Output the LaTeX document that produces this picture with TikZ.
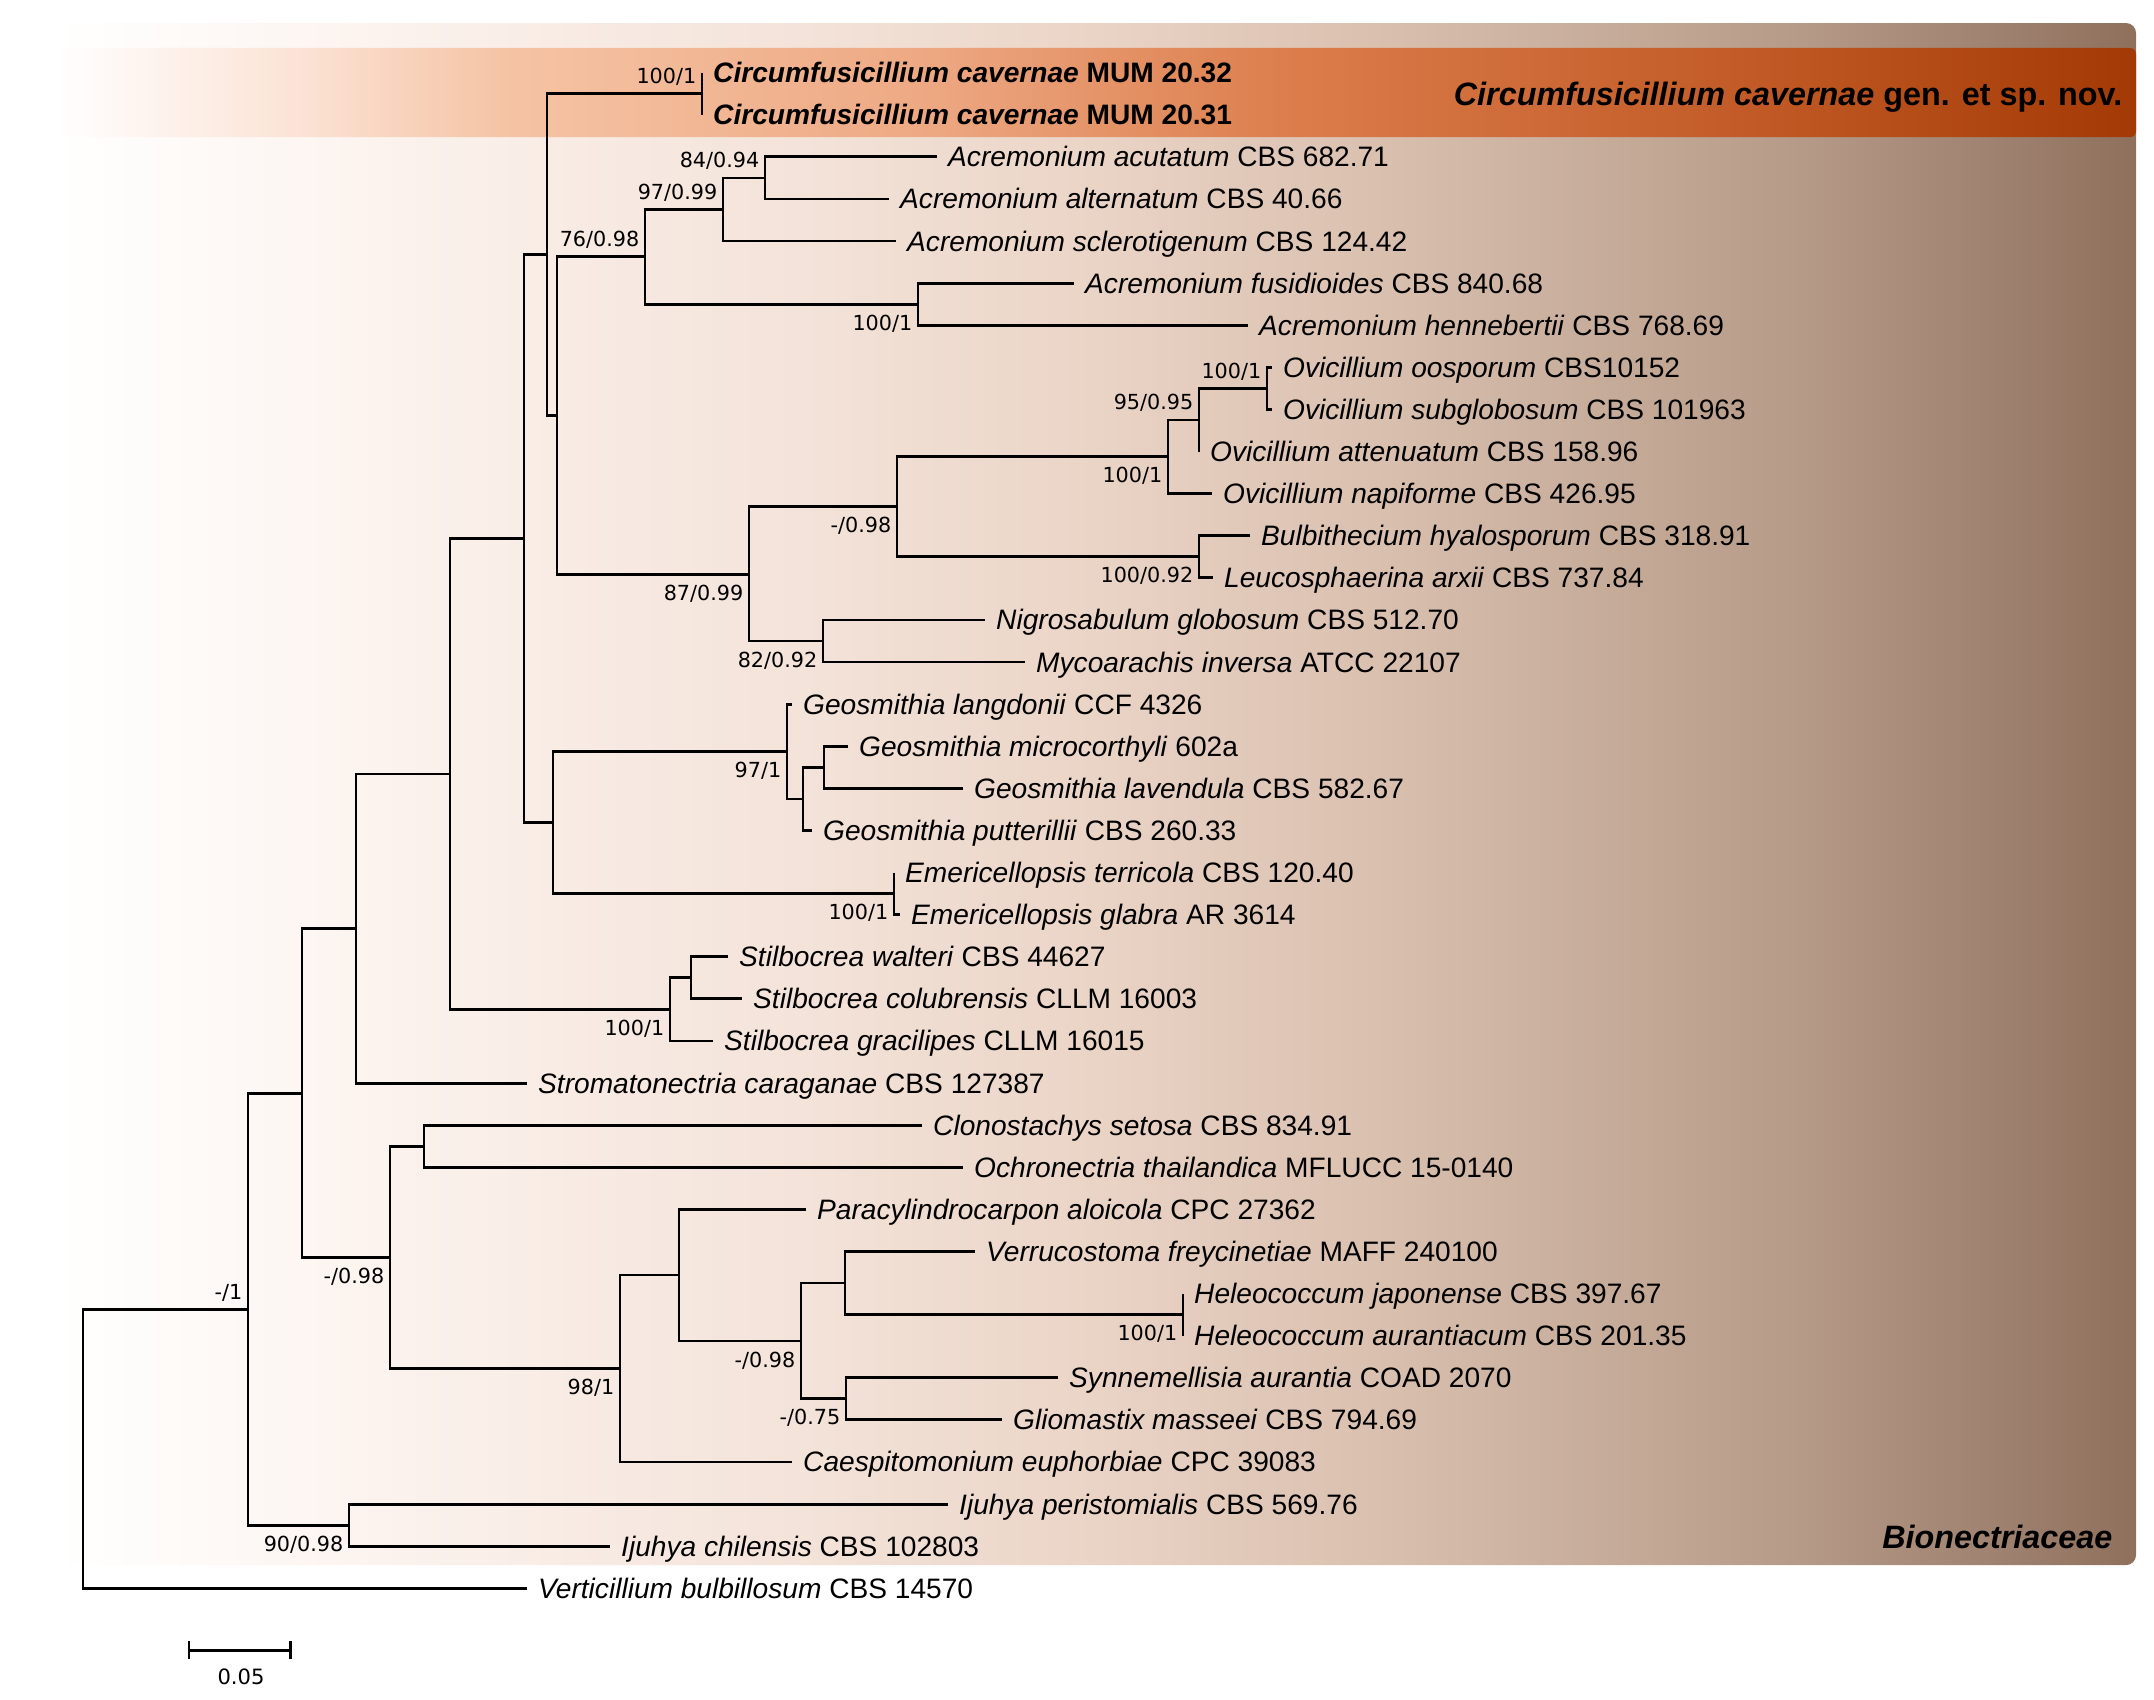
\documentclass[tikz,border=0pt]{standalone}
\usepackage{fontspec}
\setmainfont{Liberation Sans}
\newfontfamily\supfont{DejaVu Sans}

\definecolor{nova}{HTML}{FBE2D4}
\definecolor{novb}{HTML}{F5C4A5}
\definecolor{novc}{HTML}{EEAA85}
\definecolor{novd}{HTML}{DB7C4A}
\definecolor{nove}{HTML}{BE5622}
\definecolor{novf}{HTML}{A33A05}
\definecolor{fama}{HTML}{FDF6F2}
\definecolor{famb}{HTML}{F8EBE4}
\definecolor{famc}{HTML}{F3E2D8}
\definecolor{famd}{HTML}{EAD4C6}
\definecolor{fame}{HTML}{D9BFAE}
\definecolor{famf}{HTML}{B59A87}
\definecolor{famg}{HTML}{8E705D}

\pgfdeclarehorizontalshading{novshade}{100bp}{color(0bp)=(white); color(25bp)=(white);
  color(31bp)=(nova); color(35.7bp)=(novb); color(45.5bp)=(novc); color(55bp)=(novd);
  color(67bp)=(nove); color(75bp)=(novf); color(100bp)=(novf)}
\pgfdeclarehorizontalshading{famshade}{100bp}{color(0bp)=(white); color(25bp)=(white);
  color(31bp)=(fama); color(37.5bp)=(famb); color(43.5bp)=(famc); color(50bp)=(famd);
  color(57bp)=(fame); color(67bp)=(famf); color(75bp)=(famg); color(100bp)=(famg)}

\tikzset{
  treeline/.style={line width=0.8pt},
  taxon/.style={anchor=base west, inner sep=0pt, xshift=1.05mm, yshift=-1.0mm,
    font=\fontsize{8}{9.6}\selectfont},
  supa/.style={anchor=south east, inner sep=0pt, xshift=-0.5mm, yshift=0.75mm,
    font=\supfont\fontsize{5.9}{7}\selectfont},
  supb/.style={anchor=north east, inner sep=0pt, xshift=-0.5mm, yshift=-1.0mm,
    font=\supfont\fontsize{5.9}{7}\selectfont},
  cladelbl/.style={anchor=base east, inner sep=0pt,
    font=\bfseries\fontsize{9.2}{11}\selectfont}
}

\begin{document}
\begin{tikzpicture}[x=0.1mm,y=-4.21mm]
        \useasboundingbox (0,-0.727) rectangle (2154,39.65);

        \shade [shading=famshade, rounded corners=1mm] (55,-0.18) rectangle (2136,36.45);
        \shade [shading=novshade, rounded corners=0.6mm] (55,0.413) rectangle (2136,2.53);
        \node [cladelbl] (novlbl) at (2123,1.77) {\textit{Circumfusicillium cavernae} gen. et sp. nov.};
        \node [cladelbl] (famlbl) at (2113,36.06) {\textit{Bionectriaceae}};

        \path (702,1) coordinate (t1) node [taxon] (l1) {\textbf{\textit{Circumfusicillium cavernae} MUM 20.32}};
        \path (702,2) coordinate (t2) node [taxon] (l2) {\textbf{\textit{Circumfusicillium cavernae} MUM 20.31}};
        \path (937,3) coordinate (t3) node [taxon] (l3) {\textit{Acremonium acutatum} CBS 682.71};
        \path (889,4) coordinate (t4) node [taxon] (l4) {\textit{Acremonium alternatum} CBS 40.66};
        \path (896,5) coordinate (t5) node [taxon] (l5) {\textit{Acremonium sclerotigenum} CBS 124.42};
        \path (1074,6) coordinate (t6) node [taxon] (l6) {\textit{Acremonium fusidioides} CBS 840.68};
        \path (1248,7) coordinate (t7) node [taxon] (l7) {\textit{Acremonium hennebertii} CBS 768.69};
        \path (1272,8) coordinate (t8) node [taxon] (l8) {\textit{Ovicillium oosporum} CBS10152};
        \path (1272,9) coordinate (t9) node [taxon] (l9) {\textit{Ovicillium subglobosum} CBS 101963};
        \path (1199,10) coordinate (t10) node [taxon] (l10) {\textit{Ovicillium attenuatum} CBS 158.96};
        \path (1212,11) coordinate (t11) node [taxon] (l11) {\textit{Ovicillium napiforme} CBS 426.95};
        \path (1250,12) coordinate (t12) node [taxon] (l12) {\textit{Bulbithecium hyalosporum} CBS 318.91};
        \path (1213,13) coordinate (t13) node [taxon] (l13) {\textit{Leucosphaerina arxii} CBS 737.84};
        \path (985,14) coordinate (t14) node [taxon] (l14) {\textit{Nigrosabulum globosum} CBS 512.70};
        \path (1025,15) coordinate (t15) node [taxon] (l15) {\textit{Mycoarachis inversa} ATCC 22107};
        \path (792,16) coordinate (t16) node [taxon] (l16) {\textit{Geosmithia langdonii} CCF 4326};
        \path (848,17) coordinate (t17) node [taxon] (l17) {\textit{Geosmithia microcorthyli} 602a};
        \path (963,18) coordinate (t18) node [taxon] (l18) {\textit{Geosmithia lavendula} CBS 582.67};
        \path (812,19) coordinate (t19) node [taxon] (l19) {\textit{Geosmithia putterillii} CBS 260.33};
        \path (894,20) coordinate (t20) node [taxon] (l20) {\textit{Emericellopsis terricola} CBS 120.40};
        \path (900,21) coordinate (t21) node [taxon] (l21) {\textit{Emericellopsis glabra} AR 3614};
        \path (728,22) coordinate (t22) node [taxon] (l22) {\textit{Stilbocrea walteri} CBS 44627};
        \path (742,23) coordinate (t23) node [taxon] (l23) {\textit{Stilbocrea colubrensis} CLLM 16003};
        \path (713,24) coordinate (t24) node [taxon] (l24) {\textit{Stilbocrea gracilipes} CLLM 16015};
        \path (527,25) coordinate (t25) node [taxon] (l25) {\textit{Stromatonectria caraganae} CBS 127387};
        \path (922,26) coordinate (t26) node [taxon] (l26) {\textit{Clonostachys setosa} CBS 834.91};
        \path (963,27) coordinate (t27) node [taxon] (l27) {\textit{Ochronectria thailandica} MFLUCC 15-0140};
        \path (806,28) coordinate (t28) node [taxon] (l28) {\textit{Paracylindrocarpon aloicola} CPC 27362};
        \path (975,29) coordinate (t29) node [taxon] (l29) {\textit{Verrucostoma freycinetiae} MAFF 240100};
        \path (1183,30) coordinate (t30) node [taxon] (l30) {\textit{Heleococcum japonense} CBS 397.67};
        \path (1183,31) coordinate (t31) node [taxon] (l31) {\textit{Heleococcum aurantiacum} CBS 201.35};
        \path (1058,32) coordinate (t32) node [taxon] (l32) {\textit{Synnemellisia aurantia} COAD 2070};
        \path (1002,33) coordinate (t33) node [taxon] (l33) {\textit{Gliomastix masseei} CBS 794.69};
        \path (792,34) coordinate (t34) node [taxon] (l34) {\textit{Caespitomonium euphorbiae} CPC 39083};
        \path (948,35) coordinate (t35) node [taxon] (l35) {\textit{Ijuhya peristomialis} CBS 569.76};
        \path (610,36) coordinate (t36) node [taxon] (l36) {\textit{Ijuhya chilensis} CBS 102803};
        \path (527,37) coordinate (t37) node [taxon] (l37) {\textit{Verticillium bulbillosum} CBS 14570};

        \coordinate (cav) at (702,1.5);
        \coordinate (acrAA) at (765,3.5);
        \coordinate (acrS) at (723,4.25);
        \coordinate (acrFH) at (918,6.5);
        \coordinate (acr) at (645,5.375);
        \coordinate (oviOS) at (1267,8.5);
        \coordinate (oviAtt) at (1199,9.25);
        \coordinate (ovi) at (1168,10.125);
        \coordinate (bulb) at (1199,12.5);
        \coordinate (oviBulb) at (897,11.31);
        \coordinate (nigro) at (823,14.5);
        \coordinate (grpA) at (749,12.91);
        \coordinate (grpB) at (557,9.14);
        \coordinate (grpC) at (547,5.32);
        \coordinate (geoML) at (824,17.5);
        \coordinate (geoMLP) at (803,18.25);
        \coordinate (geo) at (787,17.125);
        \coordinate (emer) at (894,20.5);
        \coordinate (geoEmer) at (553,18.81);
        \coordinate (grpD) at (524,12.07);
        \coordinate (stilWC) at (691,22.5);
        \coordinate (stil) at (670,23.25);
        \coordinate (grpE) at (450,17.66);
        \coordinate (grpF) at (356,21.33);
        \coordinate (clon) at (424,26.5);
        \coordinate (hel) at (1183,30.5);
        \coordinate (verHel) at (845,29.75);
        \coordinate (synGli) at (846,32.5);
        \coordinate (grpG) at (801,31.125);
        \coordinate (para) at (679,29.56);
        \coordinate (caes) at (620,31.78);
        \coordinate (grpH) at (390,29.14);
        \coordinate (grpI) at (302,25.24);
        \coordinate (ijuhya) at (349,35.5);
        \coordinate (ingroup) at (248,30.37);
        \coordinate (root) at (83,33.68);

        \draw [treeline] (t1) -| (cav) |- (t2);
        \draw [treeline] (t3) -| (acrAA) |- (t4);
        \draw [treeline] (acrAA) -| (acrS) |- (t5);
        \draw [treeline] (t6) -| (acrFH) |- (t7);
        \draw [treeline] (acrS) -| (acr) |- (acrFH);
        \draw [treeline] (t8) -| (oviOS) |- (t9);
        \draw [treeline] (oviOS) -| (oviAtt) |- (t10);
        \draw [treeline] (oviAtt) -| (ovi) |- (t11);
        \draw [treeline] (t12) -| (bulb) |- (t13);
        \draw [treeline] (ovi) -| (oviBulb) |- (bulb);
        \draw [treeline] (t14) -| (nigro) |- (t15);
        \draw [treeline] (oviBulb) -| (grpA) |- (nigro);
        \draw [treeline] (acr) -| (grpB) |- (grpA);
        \draw [treeline] (cav) -| (grpC) |- (grpB);
        \draw [treeline] (t17) -| (geoML) |- (t18);
        \draw [treeline] (geoML) -| (geoMLP) |- (t19);
        \draw [treeline] (t16) -| (geo) |- (geoMLP);
        \draw [treeline] (t20) -| (emer) |- (t21);
        \draw [treeline] (geo) -| (geoEmer) |- (emer);
        \draw [treeline] (grpC) -| (grpD) |- (geoEmer);
        \draw [treeline] (t22) -| (stilWC) |- (t23);
        \draw [treeline] (stilWC) -| (stil) |- (t24);
        \draw [treeline] (grpD) -| (grpE) |- (stil);
        \draw [treeline] (grpE) -| (grpF) |- (t25);
        \draw [treeline] (t26) -| (clon) |- (t27);
        \draw [treeline] (t30) -| (hel) |- (t31);
        \draw [treeline] (t29) -| (verHel) |- (hel);
        \draw [treeline] (t32) -| (synGli) |- (t33);
        \draw [treeline] (verHel) -| (grpG) |- (synGli);
        \draw [treeline] (t28) -| (para) |- (grpG);
        \draw [treeline] (para) -| (caes) |- (t34);
        \draw [treeline] (clon) -| (grpH) |- (caes);
        \draw [treeline] (grpF) -| (grpI) |- (grpH);
        \draw [treeline] (t35) -| (ijuhya) |- (t36);
        \draw [treeline] (grpI) -| (ingroup) |- (ijuhya);
        \draw [treeline] (ingroup) -| (root) |- (t37);

        \node [supa] (s-cav) at (cav) {100/1};
        \node [supa] (s-acrAA) at (acrAA) {84/0.94};
        \node [supa] (s-acrS) at (acrS) {97/0.99};
        \node [supa] (s-acr) at (acr) {76/0.98};
        \node [supb] (s-acrFH) at (acrFH) {100/1};
        \node [supa] (s-oviOS) at (oviOS) {100/1};
        \node [supa] (s-oviAtt) at (oviAtt) {95/0.95};
        \node [supb] (s-ovi) at (ovi) {100/1};
        \node [supb] (s-oviBulb) at (oviBulb) {-/0.98};
        \node [supb] (s-bulb) at (bulb) {100/0.92};
        \node [supb] (s-grpA) at (grpA) {87/0.99};
        \node [supb] (s-nigro) at (nigro) {82/0.92};
        \node [supb] (s-geo) at (geo) {97/1};
        \node [supb] (s-emer) at (emer) {100/1};
        \node [supb] (s-stil) at (stil) {100/1};
        \node [supb] (s-grpH) at (grpH) {-/0.98};
        \node [supa] (s-ingroup) at (ingroup) {-/1};
        \node [supb] (s-caes) at (caes) {98/1};
        \node [supb] (s-grpG) at (grpG) {-/0.98};
        \node [supb] (s-hel) at (hel) {100/1};
        \node [supb] (s-synGli) at (synGli) {-/0.75};
        \node [supb] (s-ijuhya) at (ijuhya) {90/0.98};

        \coordinate (bar0) at (189,38.47);
        \coordinate (bar1) at (290.5,38.47);
        \draw [treeline] (bar0) -- (bar1);
        \draw [treeline] ([yshift=0.9mm]bar0) -- ([yshift=-0.9mm]bar0);
        \draw [treeline] ([yshift=0.9mm]bar1) -- ([yshift=-0.9mm]bar1);
        \node [font=\supfont\fontsize{6}{7}\selectfont, inner sep=0pt] (barlbl) at (241,39.11) {0.05};
      \end{tikzpicture}
\end{document}
